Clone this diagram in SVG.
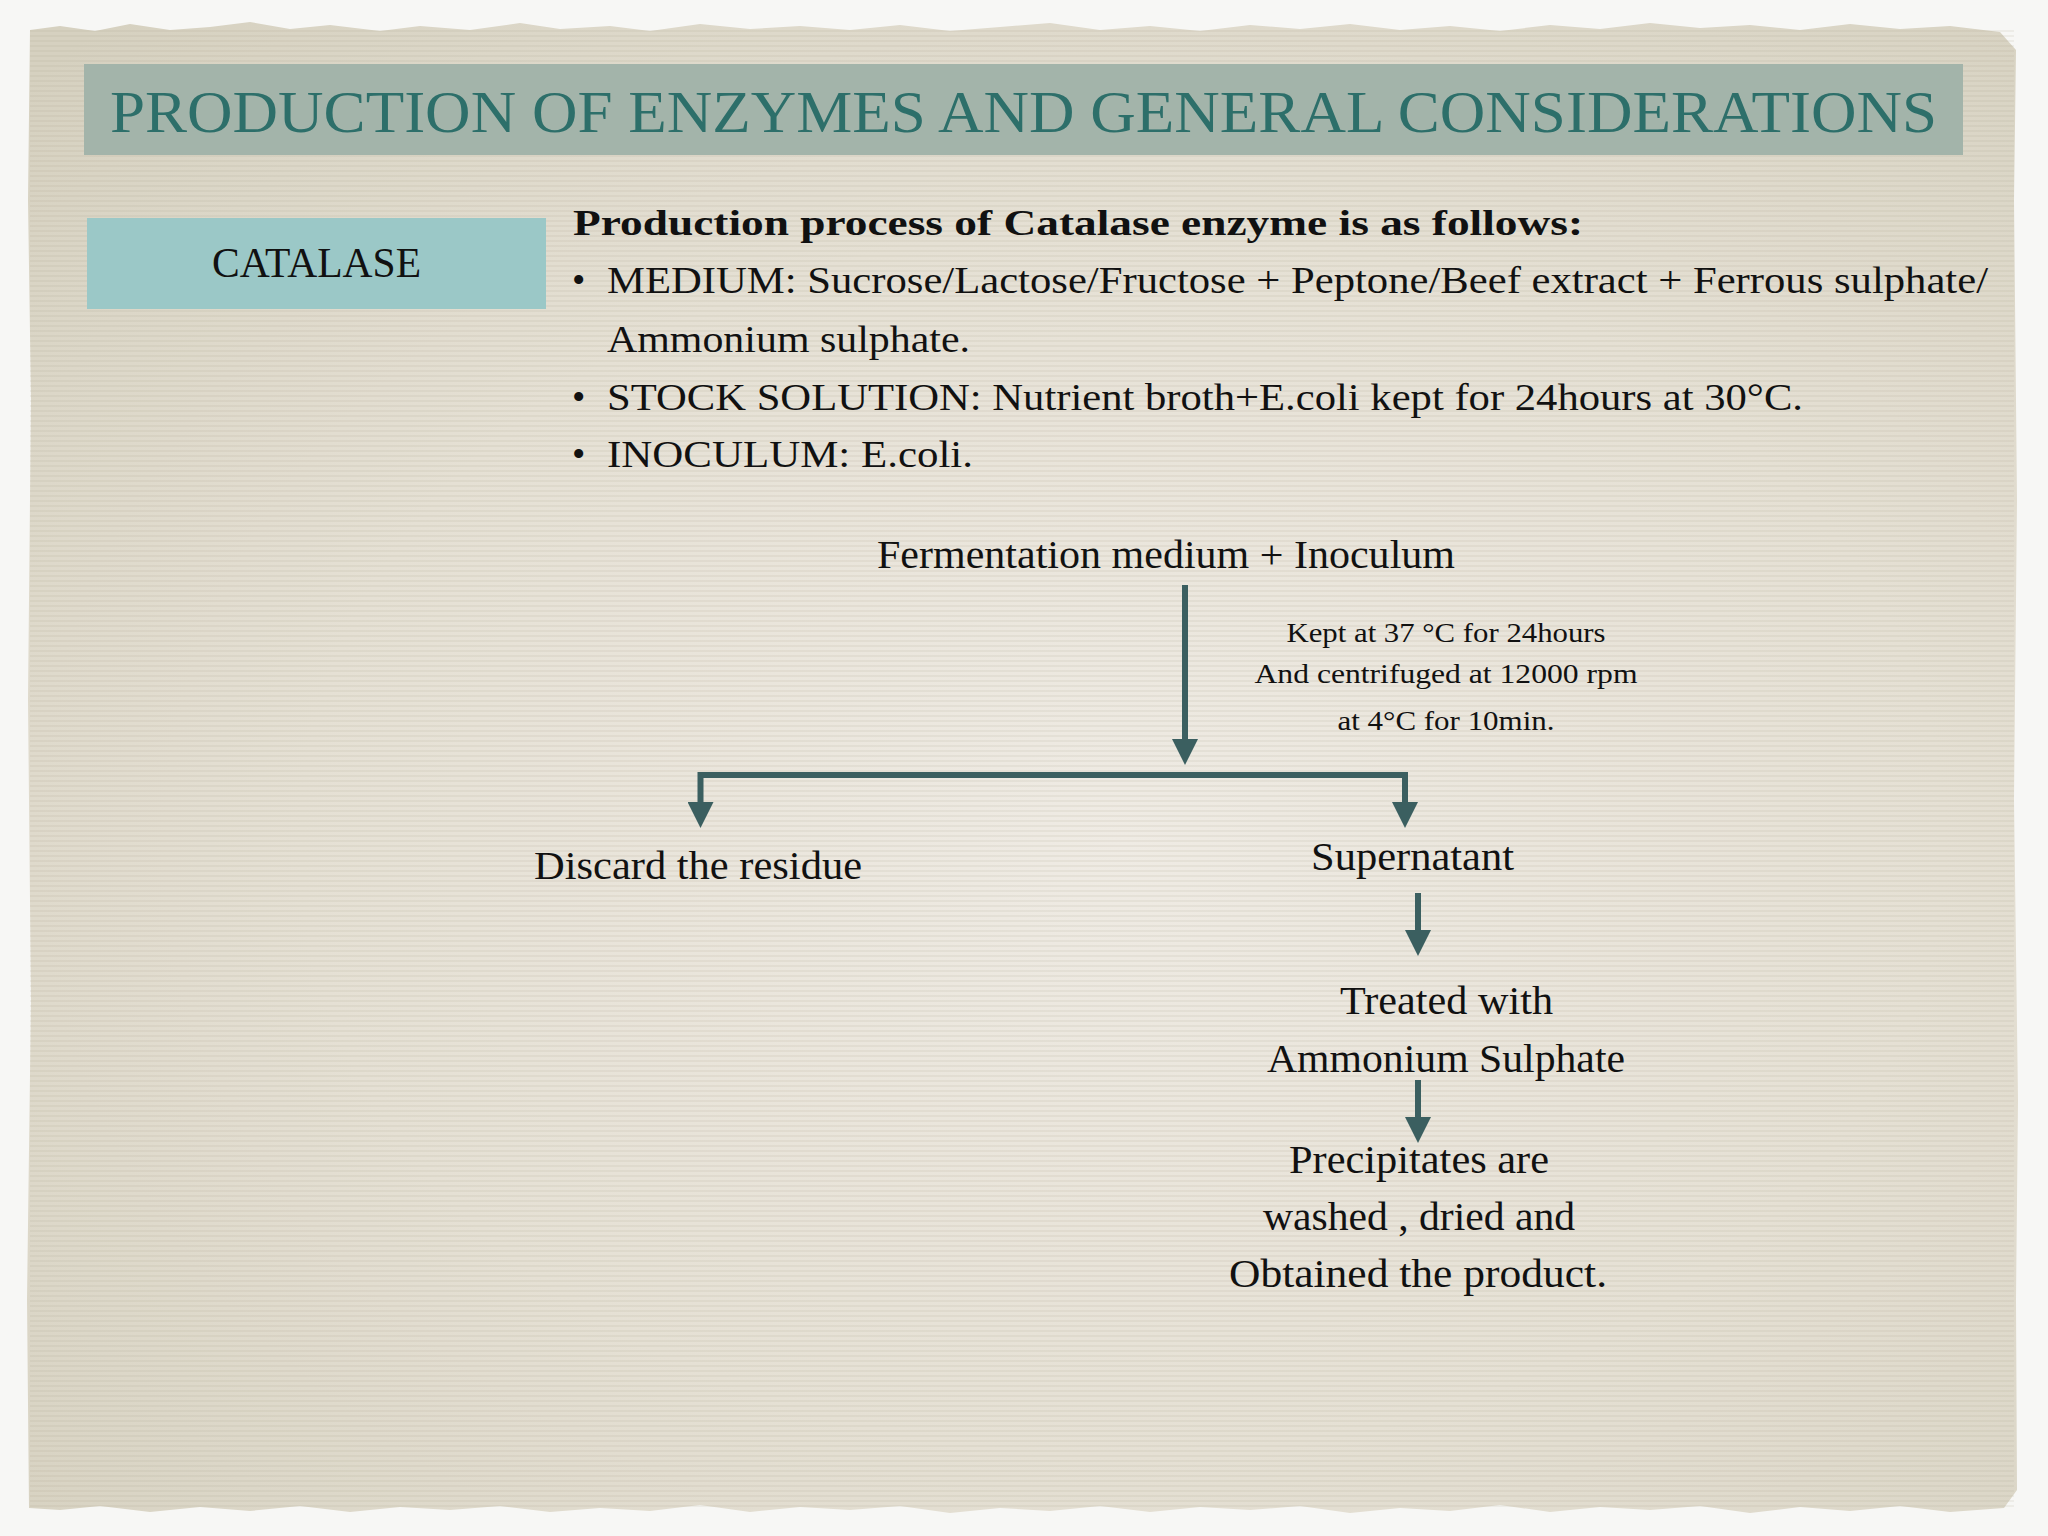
<svg xmlns="http://www.w3.org/2000/svg" width="2048" height="1536" viewBox="0 0 2048 1536">
  <defs>
    <radialGradient id="paper" cx="0.55" cy="0.55" r="0.75">
      <stop offset="0" stop-color="#efebe4"/>
      <stop offset="0.55" stop-color="#e5e0d4"/>
      <stop offset="1" stop-color="#d6d1c0"/>
    </radialGradient>
    <pattern id="lines" width="8" height="5" patternUnits="userSpaceOnUse">
      <rect width="8" height="2" fill="#a89f86" opacity="0.12"/>
    </pattern>
    <marker id="head" viewBox="0 0 26 26" refX="0" refY="13" markerWidth="26" markerHeight="26" markerUnits="userSpaceOnUse" orient="auto-start-reverse">
      <path d="M0,0 L26,13 L0,26 Z" fill="#3b5f60"/>
    </marker>
    <style>
      .serif { font-family: "Liberation Serif", "DejaVu Serif", serif; fill: #111; }
      .title { font-family: "Liberation Serif", "DejaVu Serif", serif; font-size: 60px; fill: #2d6f6a; }
      .head { font-size: 35px; font-weight: bold; }
      .body { font-size: 38px; }
      .flow { font-size: 39px; }
      .note { font-size: 28px; }
      .conn { fill: none; stroke: #3b5f60; stroke-width: 6; stroke-linejoin: miter; }
    </style>
  </defs>

  <rect width="2048" height="1536" fill="#f7f7f5"/>
  <g id="paper-sheet">
    <path d="M30,30 L60,26 L95,31 L130,24 L170,30 L210,27 L250,22 L290,29 L330,25 L380,31 L420,26 L470,30 L520,23 L560,29 L610,26 L650,31 L700,24 L750,29 L800,26 L850,30 L900,25 L950,31 L1000,27 L1050,23 L1100,30 L1150,26 L1200,31 L1250,25 L1300,29 L1350,24 L1400,30 L1450,26 L1500,31 L1550,25 L1600,29 L1650,23 L1700,28 L1750,25 L1800,30 L1850,24 L1900,29 L1950,26 L2000,32 L2016,50 L2014,200 L2017,500 L2014,800 L2018,1100 L2016,1300 L2017,1490 L2004,1508 L1950,1512 L1900,1506 L1850,1511 L1800,1507 L1750,1513 L1700,1506 L1650,1510 L1600,1507 L1550,1512 L1500,1505 L1450,1511 L1400,1508 L1350,1513 L1300,1506 L1250,1510 L1200,1507 L1150,1512 L1100,1506 L1050,1511 L1000,1508 L950,1513 L900,1506 L850,1510 L800,1507 L750,1512 L700,1505 L650,1511 L600,1508 L550,1512 L500,1506 L450,1510 L400,1507 L350,1512 L300,1506 L250,1511 L200,1507 L150,1512 L100,1506 L60,1510 L29,1508 L27,1300 L31,1000 L28,700 L31,400 L28,200 Z" fill="url(#paper)"/>
    <path d="M30,30 L2014,30 L2014,1507 L30,1507 Z" fill="url(#lines)"/>
  </g>

  <g id="title">
    <rect x="84" y="64" width="1879" height="91" fill="#a3b4aa"/>
    <text class="title" x="110" y="132" textLength="1827" lengthAdjust="spacingAndGlyphs">PRODUCTION OF ENZYMES AND GENERAL CONSIDERATIONS</text>
  </g>

  <g id="catalase">
    <rect x="87" y="218" width="459" height="91" fill="#9bc8c7"/>
    <text class="serif" x="316.5" y="277" font-size="42" text-anchor="middle" textLength="209" lengthAdjust="spacingAndGlyphs">CATALASE</text>
  </g>

  <g id="description">
    <text class="serif head" x="573" y="235" textLength="1010" lengthAdjust="spacingAndGlyphs">Production process of  Catalase enzyme is as follows:</text>
    <text class="serif body" x="572" y="293">•</text>
    <text class="serif body" x="607" y="293" textLength="1381" lengthAdjust="spacingAndGlyphs">MEDIUM: Sucrose/Lactose/Fructose + Peptone/Beef extract + Ferrous sulphate/</text>
    <text class="serif body" x="607" y="352" textLength="363" lengthAdjust="spacingAndGlyphs">Ammonium sulphate.</text>
    <text class="serif body" x="572" y="410">•</text>
    <text class="serif body" x="607" y="410" textLength="1196" lengthAdjust="spacingAndGlyphs">STOCK SOLUTION: Nutrient broth+E.coli kept for 24hours at 30°C.</text>
    <text class="serif body" x="572" y="467">•</text>
    <text class="serif body" x="607" y="467" textLength="366" lengthAdjust="spacingAndGlyphs">INOCULUM: E.coli.</text>
  </g>

  <g id="node-fermentation">
    <text class="serif flow" x="877" y="568" textLength="578" lengthAdjust="spacingAndGlyphs">Fermentation medium + Inoculum</text>
  </g>

  <g id="label-conditions">
    <text class="serif note" x="1446" y="642" text-anchor="middle" textLength="319" lengthAdjust="spacingAndGlyphs">Kept at 37 °C for 24hours</text>
    <text class="serif note" x="1446" y="683" text-anchor="middle" textLength="383" lengthAdjust="spacingAndGlyphs">And centrifuged at 12000 rpm</text>
    <text class="serif note" x="1446" y="730" text-anchor="middle" textLength="217" lengthAdjust="spacingAndGlyphs">at 4°C for 10min.</text>
  </g>

  <g id="node-discard">
    <text class="serif flow" x="534" y="879" textLength="328" lengthAdjust="spacingAndGlyphs">Discard the residue</text>
  </g>

  <g id="node-supernatant">
    <text class="serif flow" x="1311" y="870" textLength="203" lengthAdjust="spacingAndGlyphs">Supernatant</text>
  </g>

  <g id="node-treated">
    <text class="serif flow" x="1340" y="1014" textLength="213" lengthAdjust="spacingAndGlyphs">Treated with</text>
    <text class="serif flow" x="1267" y="1072" textLength="358" lengthAdjust="spacingAndGlyphs">Ammonium Sulphate</text>
  </g>

  <g id="node-precipitates">
    <text class="serif flow" x="1289" y="1173" textLength="260" lengthAdjust="spacingAndGlyphs">Precipitates are</text>
    <text class="serif flow" x="1263" y="1230" textLength="312" lengthAdjust="spacingAndGlyphs">washed , dried and</text>
    <text class="serif flow" x="1229" y="1287" textLength="378" lengthAdjust="spacingAndGlyphs">Obtained the product.</text>
  </g>

  <g id="connectors">
    <line class="conn" x1="1185" y1="585" x2="1185" y2="739" marker-end="url(#head)"/>
    <path class="conn" d="M700.5,802 V775 H1405 V802" marker-start="url(#head)" marker-end="url(#head)"/>
    <line class="conn" x1="1418" y1="893" x2="1418" y2="930" marker-end="url(#head)"/>
    <line class="conn" x1="1418" y1="1080" x2="1418" y2="1117" marker-end="url(#head)"/>
  </g>
</svg>
